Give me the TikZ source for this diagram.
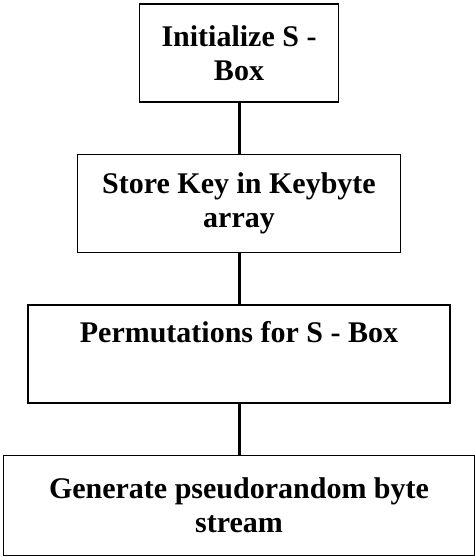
\documentclass[tikz,border=0pt]{standalone}
\usepackage{fontspec}
\setmainfont{Liberation Serif}
\usetikzlibrary{positioning}
\def\stagesep{51pt}

\begin{document}
\begin{tikzpicture}[x=1pt, y=1pt, node distance=\stagesep]
    \tikzstyle{stage}=[draw=black, line width=1.6pt, rectangle, minimum height=98pt, inner sep=0pt, align=center, font=\bfseries\fontsize{30}{34}\selectfont]
    \tikzstyle{every edge}=[draw=black, line width=3pt]
    \useasboundingbox (0,0) rectangle (474,-557);

    \node[stage, minimum width=199pt, anchor=north] (S-1) at (239,-3) {Initialize S -\\Box};
    \node[stage, minimum width=323pt, below=of S-1] (S-2) {Store Key in Keybyte\\array};
    \node[stage, minimum width=422pt, below=of S-2] (S-3) {Permutations for S - Box\\\strut};
    \node[stage, minimum width=471pt, minimum height=100pt, below=of S-3] (S-4) {Generate pseudorandom byte\\stream};

    \path (S-1) edge (S-2);
    \path (S-2) edge (S-3);
    \path (S-3) edge (S-4);
\end{tikzpicture}
\end{document}
